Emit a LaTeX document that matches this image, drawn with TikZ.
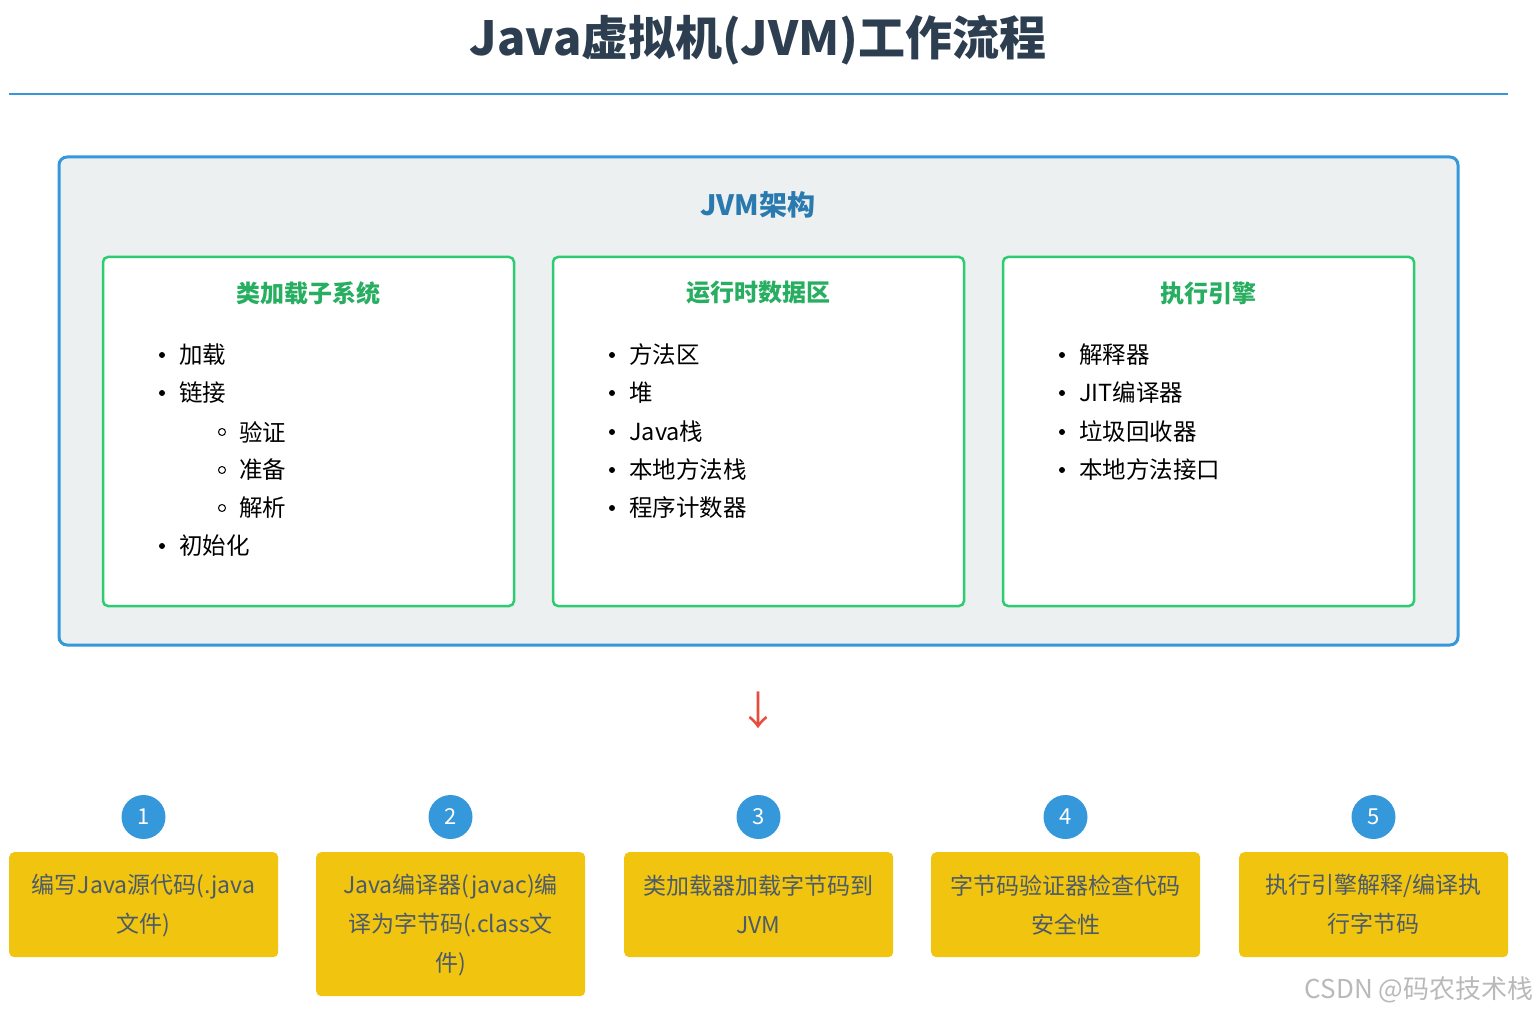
\documentclass[tikz,border=0pt]{standalone}
\usepackage{fontspec}
\setmainfont{Noto Sans CJK SC}
\definecolor{dark}{HTML}{2C3E50}
\definecolor{jblue}{HTML}{3498DB}
\definecolor{jgreen}{HTML}{2ECC71}
\definecolor{hgreen}{HTML}{27AE60}
\definecolor{panel}{HTML}{ECF0F1}
\definecolor{jyellow}{HTML}{F1C40F}
\definecolor{jred}{HTML}{E74C3C}
\begin{document}
\begin{tikzpicture}[x=1pt,y=-1pt,
  sub/.style={draw=jgreen,line width=2.5pt,fill=white,rounded corners=5pt},
  head/.style={font=\fontsize{24}{26}\selectfont\bfseries,text=hgreen},
  item/.style={anchor=west,font=\fontsize{23.5}{26}\selectfont,inner sep=0pt},
  stepbox/.style={fill=jyellow,rounded corners=5pt,minimum width=269pt,anchor=north west},
  steptext/.style={align=center,font=\fontsize{23}{39}\selectfont,text=dark!85},
  num/.style={circle,fill=jblue,minimum size=44pt,inner sep=0pt,text=white,font=\fontsize{22}{24}\selectfont}]
\useasboundingbox (0,0) rectangle (1540,1016);
\node[font=\fontsize{47}{50}\selectfont\bfseries,text=dark] (title) at (758,40) {Java虚拟机(JVM)工作流程};
\draw[jblue,line width=2.5pt] (9,94) -- (1508,94);
\draw[jblue,line width=3pt,fill=panel,rounded corners=8pt] (59,157) rectangle (1458,645);
\node[font=\fontsize{28}{30}\selectfont\bfseries,text=jblue!80!black] (arch) at (758,205) {JVM架构};
% three sub boxes
\foreach \x/\t [count=\i] in {103/类加载子系统,553/运行时数据区,1003/执行引擎}{
  \draw[sub] (\x,257) rectangle (\x+411,606);
  \node[head] (h\i) at (\x+205.5,293) {\t};
}
% lists
\foreach \x/\y/\t in {103/355/加载,103/393/链接,103/546/初始化,
  553/355/方法区,553/393/堆,553/432/Java栈,553/470/本地方法栈,553/508/程序计数器,
  1003/355/解释器,1003/393/JIT编译器,1003/432/垃圾回收器,1003/470/本地方法接口}{
  \fill (\x+59,\y) circle (3pt);
  \node[item] at (\x+76,\y) {\t};
}
\foreach \y/\t in {432/验证,470/准备,508/解析}{
  \draw[line width=1pt] (222,\y) circle (3.5pt);
  \node[item] at (239,\y) {\t};
}
\node[text=jred,font=\fontsize{40}{40}\selectfont] (arrow) at (758,710) {↓};
% steps
\foreach \x/\n/\h/\t in {9/1/105/{编写Java源代码(.java\\文件)},
  316/2/144/{Java编译器(javac)编\\译为字节码(.class文\\件)},
  624/3/105/{类加载器加载字节码到\\JVM},
  931/4/105/{字节码验证器检查代码\\安全性},
  1239/5/105/{执行引擎解释/编译执\\行字节码}}{
  \node[stepbox,minimum height=\h pt] (s\n) at (\x,852) {};
  \node[steptext,anchor=north] at (\x+134.5,871) {\t};
  \node[num] (n\n) at (\x+134.5,817) {\n};
}
\node[text=gray!55,font=\fontsize{26}{28}\selectfont,anchor=east] (wm) at (1537,990) {CSDN @码农技术栈};
\end{tikzpicture}
\end{document}
